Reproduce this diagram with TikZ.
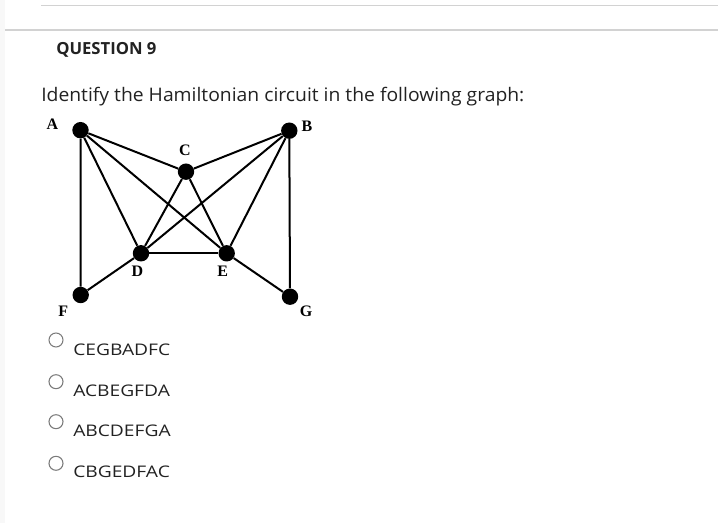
\documentclass[tikz,border=0pt]{standalone}
\usepackage{fontspec}
\setmainfont{Open Sans}
\newfontfamily\graphlabelfont{Liberation Serif}
\newfontfamily\widesans[FakeStretch=1.2]{Open Sans}
\newfontfamily\promptsans[FakeStretch=1.035]{Open Sans}
\definecolor{rulegray}{HTML}{D2D2D2}
\definecolor{stripgray}{HTML}{F8F8F8}
\definecolor{txtdark}{HTML}{222222}
\definecolor{radiogray}{HTML}{7A7A7A}
\begin{document}
\begin{tikzpicture}[x=0.75pt,y=-0.75pt,
  vtx/.style={circle,fill=black,inner sep=0pt,minimum size=12.3pt},
  edge/.style={line width=1.5pt,black},
  lbl/.style={font=\graphlabelfont\bfseries\fontsize{12}{13}\selectfont,inner sep=0pt},
  radio/.style={circle,draw=radiogray,line width=0.8pt,fill=white,inner sep=0pt,minimum size=10.5pt},
  opt/.style={anchor=base west,inner sep=0pt,text=txtdark,font=\widesans\fontsize{12}{14}\selectfont}]
\useasboundingbox (0,0) rectangle (718,523);
\fill[white] (0,0) rectangle (718,523);
\fill[stripgray] (0,0) rectangle (5,523);
\coordinate (r1a) at (41,5.5); \coordinate (r1b) at (718,5.5);
\coordinate (r2a) at (5,30); \coordinate (r2b) at (718,30);
\draw[rulegray,line width=0.9pt] (r1a) -- (r1b);
\draw[rulegray,line width=0.9pt] (r2a) -- (r2b);
\node[anchor=base west,inner sep=0pt,text=txtdark,font=\bfseries\fontsize{12.5}{14}\selectfont] (q) at (56,55) {QUESTION 9};
\node[anchor=base west,inner sep=0pt,text=txtdark,font=\promptsans\fontsize{14}{16}\selectfont] (prompt) at (41,102) {Identify the Hamiltonian circuit in the following graph:};
% vertices
\node[vtx] (A) at (80.5,130.2) {};
\node[vtx] (B) at (289.3,130.7) {};
\node[vtx] (C) at (186,171.7) {};
\node[vtx] (D) at (141,253.3) {};
\node[vtx] (E) at (226.7,253.3) {};
\node[vtx] (F) at (80.7,295) {};
\node[vtx] (G) at (290,296.7) {};
% edges
\draw[edge] (A) -- (F);
\draw[edge] (A) -- (C);
\draw[edge] (A) -- (D);
\draw[edge] (A) -- (E);
\draw[edge] (B) -- (C);
\draw[edge] (B) -- (D);
\draw[edge] (B) -- (E);
\draw[edge] (B) -- (G);
\draw[edge] (C) -- (D);
\draw[edge] (C) -- (E);
\draw[edge] (D) -- (E);
\draw[edge] (D) -- (F);
\draw[edge] (E) -- (G);
% labels
\node[lbl] (lA) at (52.5,124.5) {A};
\node[lbl] (lB) at (307,126) {B};
\node[lbl] (lC) at (185,150) {C};
\node[lbl] (lD) at (137.3,271.3) {D};
\node[lbl] (lE) at (222.7,271.3) {E};
\node[lbl] (lF) at (63.3,311.7) {F};
\node[lbl] (lG) at (306,311.7) {G};
% options
\node[radio] (o1) at (56,340) {};
\node[radio] (o2) at (56,381.7) {};
\node[radio] (o3) at (56,421.7) {};
\node[radio] (o4) at (56,463.3) {};
\node[opt] (t1) at (73,356) {CEGBADFC};
\node[opt] (t2) at (73,396.5) {ACBEGFDA};
\node[opt] (t3) at (73,437) {ABCDEFGA};
\node[opt] (t4) at (73,478) {CBGEDFAC};
\end{tikzpicture}
\end{document}
